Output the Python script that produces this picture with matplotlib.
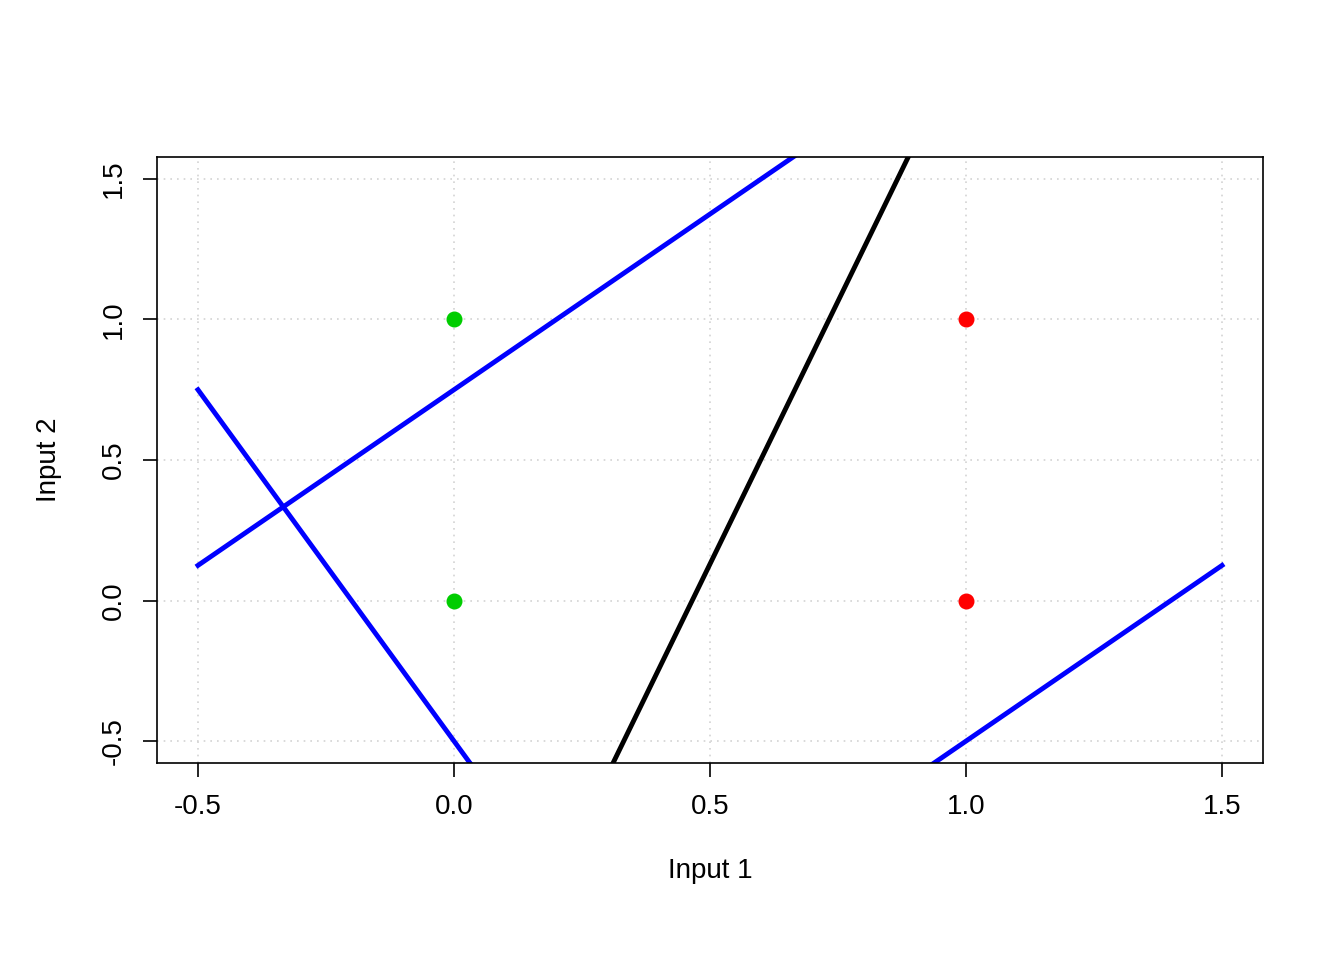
import matplotlib
matplotlib.use("Agg")
import matplotlib.pyplot as plt
import numpy as np

plt.rcParams['font.family'] = ['Liberation Sans', 'DejaVu Sans']

green_x = [0, 0]; green_y = [0, 1]
red_x = [1, 1]; red_y = [0, 1]
blue_slopes = [1.25, -2.5, 1.25]
blue_intercepts = [0.75, -0.5, -1.75]
black_slope = 3.74
black_intercept = -1.74
ticks = [-0.5, 0.0, 0.5, 1.0, 1.5]
tick_labels = ["-0.5", "0.0", "0.5", "1.0", "1.5"]

fig = plt.figure(figsize=(13.44, 9.6), dpi=100)
ax = fig.add_axes([157/1344, 197/960, 1106/1344, 606/960])
ax.set_xlim(-0.58, 1.58)
ax.set_ylim(-0.578, 1.578)
ax.grid(True, color='lightgray', linestyle=(0, (1, 3)), linewidth=1.2)
ax.set_axisbelow(True)

xs = np.array([-0.5, 1.5])
for m, b in zip(blue_slopes, blue_intercepts):
    ax.plot(xs, m*xs + b, color='blue', lw=3.5)
ax.plot(xs, black_slope*xs + black_intercept, color='black', lw=3.5)

ax.scatter(green_x, green_y, color='#00CD00', s=110, zorder=5)
ax.scatter(red_x, red_y, color='red', s=110, zorder=5)

ax.set_xticks(ticks); ax.set_xticklabels(tick_labels)
ax.set_yticks(ticks); ax.set_yticklabels(tick_labels, rotation=90, va='center')
ax.tick_params(direction='out', length=10, width=1.2, labelsize=20, pad=12)
for s in ax.spines.values():
    s.set_linewidth(1.2)
ax.set_xlabel("Input 1", fontsize=20, labelpad=28)
ax.set_ylabel("Input 2", fontsize=20, labelpad=28)
fig.savefig("out.png", dpi=100)
